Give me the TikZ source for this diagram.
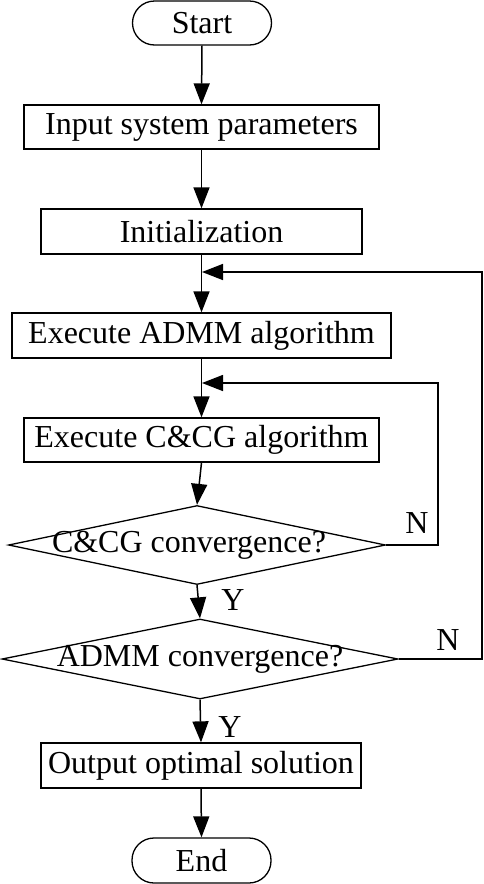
\documentclass[tikz,border=0pt]{standalone}
\usepackage{fontspec}
\setmainfont{Liberation Serif}
\usetikzlibrary{shapes.geometric,arrows.meta}
\begin{document}
\begin{tikzpicture}[x=1pt,y=-1pt,
  font=\fontsize{32}{37}\selectfont,
  box/.style={draw,line width=1.3pt,rectangle,inner sep=0pt},
  term/.style={draw,line width=1.3pt,rectangle,rounded corners=22pt,inner sep=0pt,minimum width=139pt,minimum height=44pt},
  dia/.style={draw,line width=1.3pt,diamond,inner sep=0pt},
  conn/.style={line width=1.5pt,-{Triangle[length=21pt,width=16pt]}},
  plain/.style={line width=1.5pt}]
\useasboundingbox (0,0) rectangle (484,884);
\node[term] (start) at (202,23) {Start};
\node[box,minimum width=355pt,minimum height=44pt] (b1) at (201.5,127) {Input system parameters};
\node[box,minimum width=321pt,minimum height=45pt] (b2) at (201.5,231.5) {Initialization};
\node[box,minimum width=379pt,minimum height=45pt] (b3) at (201.5,335.5) {Execute ADMM algorithm};
\node[box,minimum width=355pt,minimum height=44pt] (b4) at (201.5,440) {Execute C\&CG algorithm};
\node[dia,minimum width=377pt,minimum height=79pt] (d1) at (197,545) {};
\node (t1) at (189,545) {C\&CG convergence?};
\node[dia,minimum width=396pt,minimum height=80pt] (d2) at (200,659) {};
\node (t2) at (200,659) {ADMM convergence?};
\node[box,minimum width=320pt,minimum height=45pt] (b5) at (201,765.5) {Output optimal solution};
\node[term,minimum height=45pt] (end) at (201.5,860.5) {End};
\coordinate (m1) at (202,272);
\coordinate (m2) at (202,383);
\coordinate (r1) at (482,659);
\coordinate (r1t) at (482,272);
\coordinate (r2) at (438,545);
\coordinate (r2t) at (438,383);
\draw[conn] (start.south) -- (b1.north);
\draw[conn] (b1.south) -- (b2.north);
\draw[conn] (b2.south) -- (b3.north);
\draw[conn] (b3.south) -- (b4.north);
\draw[conn] (b4.south) -- (d1.north);
\draw[conn] (d1.south) -- (d2.north);
\draw[conn] (d2.south) -- (b5.north);
\draw[conn] (b5.south) -- (end.north);
\draw[conn] (d1.east) -- (r2) -- (r2t) -- (m2);
\draw[conn] (d2.east) -- (r1) -- (r1t) -- (m1);
\node (n1) at (417,523) {N};
\node (y1) at (233,600) {Y};
\node (n2) at (448,640) {N};
\node (y2) at (230,727) {Y};
\end{tikzpicture}
\end{document}
